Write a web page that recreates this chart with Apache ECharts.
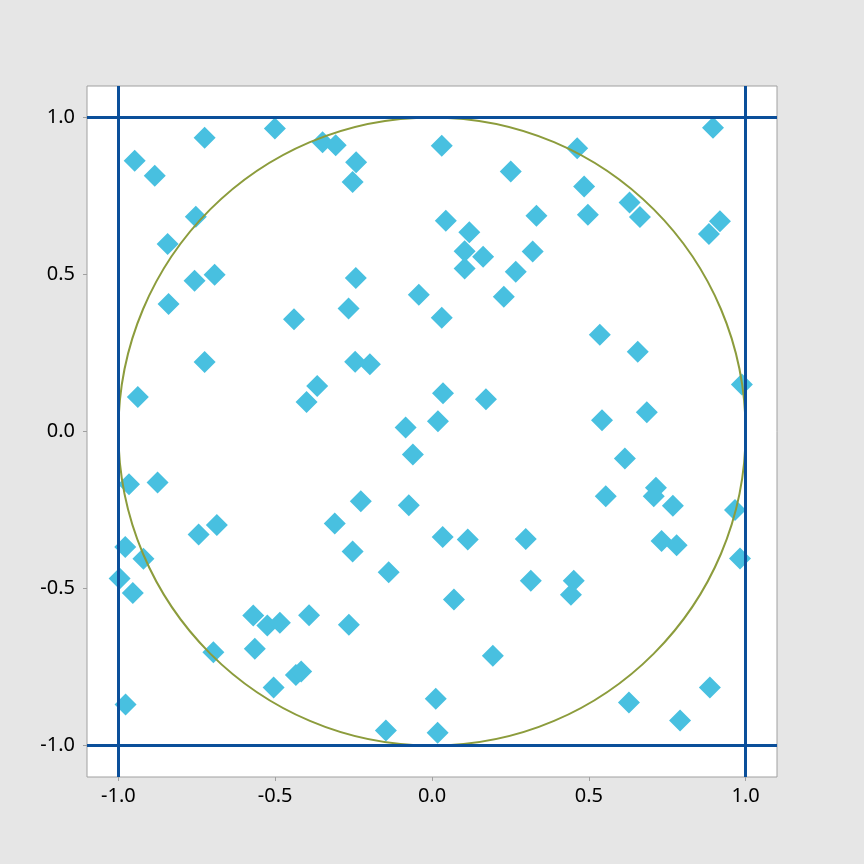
<!DOCTYPE html>
<html>
<head>
<meta charset="utf-8">
<script src="https://cdn.jsdelivr.net/npm/echarts@6/dist/echarts.min.js"></script>
<style>
  html, body { margin: 0; padding: 0; background: #e6e6e6; }
  #chart { width: 864px; height: 864px; }
</style>
</head>
<body>
<div id="chart"></div>
<script>
// Sample points (x, y)
const xValues = [
  -0.948, -0.884, -0.725, -0.501, -0.753, -0.843, -0.757, -0.693, -0.840, -0.440,
  -0.349, -0.307, -0.242, -0.253, 0.031, 0.251, 0.044, 0.119, 0.104, 0.163,
  0.104, 0.333, 0.321, 0.267, 0.229, -0.243, -0.042, -0.266, 0.031,
  0.463, 0.896, 0.485, 0.497, 0.630, 0.663, 0.918, 0.883,
  -0.725, -0.938, -0.400, -0.366, -0.966, -0.875, -0.686, -0.744, -0.978,
  -0.245, -0.198, 0.035, 0.172, -0.084, 0.019, -0.061, -0.227, -0.074, -0.310,
  0.034, 0.114, 0.299, -0.253,
  0.535, 0.656, 0.988, 0.685, 0.542, 0.615, 0.554, 0.714, 0.707, 0.768,
  0.966, 0.732, 0.780,
  -0.920, -0.996, -0.954, -0.570, -0.525, -0.485, -0.392, -0.565, -0.697, -0.434,
  -0.417, -0.505, -0.977,
  -0.138, 0.070, 0.315, -0.265, 0.194, 0.012, -0.147, 0.018,
  0.982, 0.452, 0.443, 0.628, 0.886, 0.791
];
const yValues = [
  0.862, 0.814, 0.935, 0.965, 0.684, 0.597, 0.480, 0.499, 0.406, 0.357,
  0.921, 0.911, 0.857, 0.794, 0.910, 0.828, 0.671, 0.634, 0.574, 0.556,
  0.519, 0.687, 0.573, 0.509, 0.429, 0.489, 0.435, 0.392, 0.362,
  0.902, 0.967, 0.780, 0.690, 0.729, 0.683, 0.669, 0.629,
  0.221, 0.110, 0.094, 0.145, -0.168, -0.162, -0.298, -0.328, -0.368,
  0.222, 0.214, 0.122, 0.103, 0.013, 0.033, -0.073, -0.222, -0.235, -0.293,
  -0.336, -0.344, -0.342, -0.382,
  0.308, 0.254, 0.150, 0.061, 0.036, -0.086, -0.206, -0.179, -0.206, -0.236,
  -0.250, -0.349, -0.362,
  -0.405, -0.468, -0.514, -0.586, -0.618, -0.609, -0.585, -0.692, -0.703, -0.775,
  -0.764, -0.815, -0.869,
  -0.448, -0.535, -0.475, -0.615, -0.714, -0.851, -0.952, -0.959,
  -0.404, -0.475, -0.520, -0.863, -0.815, -0.920
];
// Tick values for both axes
const tickValues = [-1.0, -0.5, 0.0, 0.5, 1.0];
// Square boundary lines (x = ±1, y = ±1)
const verticalLines = [-1, 1];
const horizontalLines = [-1, 1];
// Unit circle: center x, center y, radius
const circleSpec = [[0, 0, 1]];

const points = xValues.map((x, i) => [x, yValues[i]]);

const labelStyle = {
  fontFamily: 'Noto Sans',
  fontSize: 20,
  color: '#000000',
  formatter: v => Number(v).toFixed(1)
};

const chart = echarts.init(document.getElementById('chart'), null, { renderer: 'canvas' });
chart.setOption({
  backgroundColor: '#e6e6e6',
  animation: false,
  grid: {
    left: 87, right: 87, top: 86, bottom: 87,
    containLabel: false,
    show: true,
    backgroundColor: '#ffffff',
    borderColor: '#a0a0a0',
    borderWidth: 1
  },
  xAxis: {
    type: 'value',
    min: -1.1, max: 1.1,
    position: 'bottom',
    axisLine: { show: false, onZero: false },
    splitLine: { show: false },
    axisTick: { show: true, inside: false, length: 4, lineStyle: { color: '#a0a0a0' }, customValues: tickValues },
    axisLabel: Object.assign({ margin: 9, customValues: tickValues }, labelStyle)
  },
  yAxis: {
    type: 'value',
    min: -1.1, max: 1.1,
    position: 'left',
    axisLine: { show: false, onZero: false },
    splitLine: { show: false },
    axisTick: { show: true, inside: false, length: 4, lineStyle: { color: '#a0a0a0' }, customValues: tickValues },
    axisLabel: Object.assign({ margin: 12, customValues: tickValues }, labelStyle)
  },
  series: [
    {
      type: 'line',
      data: [],
      z: 1,
      silent: true,
      markLine: {
        silent: true,
        symbol: 'none',
        label: { show: false },
        animation: false,
        lineStyle: { color: '#0b4f9a', width: 3, type: 'solid' },
        emphasis: { disabled: true },
        data: verticalLines.map(v => ({ xAxis: v }))
          .concat(horizontalLines.map(v => ({ yAxis: v })))
      }
    },
    {
      type: 'scatter',
      data: points,
      z: 2,
      symbol: 'diamond',
      symbolSize: 22,
      itemStyle: { color: '#48c0e0', opacity: 1 },
      emphasis: { disabled: true },
      silent: true
    },
    {
      type: 'custom',
      z: 3,
      silent: true,
      data: circleSpec,
      renderItem: function (params, api) {
        const c = api.coord([api.value(0), api.value(1)]);
        const ex = api.coord([api.value(0) + api.value(2), api.value(1)]);
        const ey = api.coord([api.value(0), api.value(1) + api.value(2)]);
        return {
          type: 'ellipse',
          shape: { cx: c[0], cy: c[1], rx: Math.abs(ex[0] - c[0]), ry: Math.abs(c[1] - ey[1]) },
          style: { fill: 'none', stroke: '#8c9c3c', lineWidth: 2 }
        };
      }
    }
  ]
});
</script>
</body>
</html>
